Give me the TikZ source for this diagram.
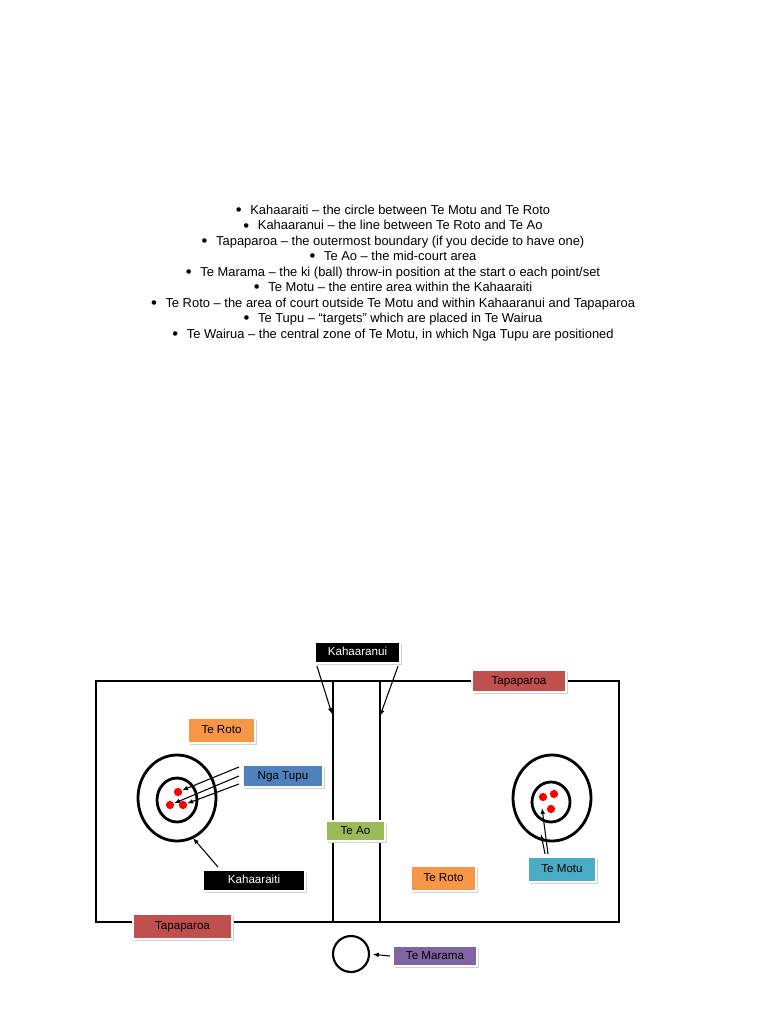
\documentclass[tikz,border=0pt]{standalone}
\usepackage{fontspec}
\setmainfont{Liberation Sans}
\usetikzlibrary{arrows.meta,shadows,calc}
\definecolor{cRed}{HTML}{C0504D}
\definecolor{cOrange}{HTML}{F79646}
\definecolor{cBlue}{HTML}{4F81BD}
\definecolor{cGreen}{HTML}{9BBB59}
\definecolor{cCyan}{HTML}{4BACC6}
\definecolor{cPurple}{HTML}{8064A2}
\definecolor{cDot}{HTML}{FF0000}
\newcommand{\bl}{\raisebox{-1.4pt}{\fontsize{12.5}{12.5}\selectfont •}\hspace{6.5pt}}
\begin{document}
\begin{tikzpicture}[x=0.75pt,y=-0.75pt,
  lbl/.style={draw=white, line width=1.6pt, inner sep=0pt, text=black,
    font=\fontsize{8.7}{10}\selectfont, text height=6.2pt, text depth=1.6pt,
    general shadow={fill=black!18, shadow xshift=1.5pt, shadow yshift=-1.5pt}},
  box/.style 2 args={minimum width=#1*0.75pt, minimum height=#2*0.75pt},
  dark/.style={lbl, fill=black, text=white},
  bul/.style={anchor=base, font=\fontsize{9.7}{11.6}\selectfont, inner sep=0pt},
  court/.style={line width=2.1pt},
  mid/.style={line width=2pt},
  ring/.style={line width=2.1pt},
  dot/.style={circle, fill=cDot, inner sep=0pt, minimum size=6.2pt},
  arr/.style={line width=0.8pt, -{Latex[length=4.5pt,width=3.5pt]}}
]
\useasboundingbox[fill=white] (0,0) rectangle (768,1024);

% bullet list
\node[bul] (l1) at (393,214) {\bl Kahaaraiti – the circle between Te Motu and Te Roto};
\node[bul] (l2) at (393,229.5) {\bl Kahaaranui – the line between Te Roto and Te Ao};
\node[bul] (l3) at (393,245) {\bl Tapaparoa – the outermost boundary (if you decide to have one)};
\node[bul] (l4) at (393,260) {\bl Te Ao – the mid-court area};
\node[bul] (l5) at (393,276) {\bl Te Marama – the ki (ball) throw-in position at the start o each point/set};
\node[bul] (l6) at (393,291) {\bl Te Motu – the entire area within the Kahaaraiti};
\node[bul] (l7) at (393,307) {\bl Te Roto – the area of court outside Te Motu and within Kahaaranui and Tapaparoa};
\node[bul] (l8) at (393,322) {\bl Te Tupu – “targets” which are placed in Te Wairua};
\node[bul] (l9) at (393,338) {\bl Te Wairua – the central zone of Te Motu, in which Nga Tupu are positioned};

% court
\draw[court] (96,681) rectangle (619,922);
\draw[mid] (333,681) -- (333,922);
\draw[mid] (380,681) -- (380,922);

% targets
\draw[ring] (177,798) ellipse [x radius=39, y radius=43];
\draw[ring] (177,800) ellipse [x radius=20, y radius=22];
\draw[ring] (552,798) ellipse [x radius=39, y radius=43];
\draw[ring] (551,802) ellipse [x radius=19, y radius=20];
\node[dot] (d1) at (178,792) {};
\node[dot] (d2) at (170,805) {};
\node[dot] (d3) at (183,805) {};
\node[dot] (e1) at (543,797) {};
\node[dot] (e2) at (554,794) {};
\node[dot] (e3) at (551,809) {};

% ball
\node[draw, circle, line width=1.6pt, minimum size=27pt, inner sep=0pt] (ball) at (351,954) {};

% labels
\node[dark, box={85}{21}] (kahaaranui) at (357.5,652.5) {Kahaaranui};
\node[lbl, fill=cRed, box={94}{22}] (tapaT) at (519,681) {Tapaparoa};
\node[lbl, fill=cOrange, box={67}{25}] (rotoL) at (221.5,730.5) {Te Roto};
\node[lbl, fill=cBlue, box={80}{22}] (nga) at (283,776) {Nga Tupu};
\node[lbl, fill=cGreen, box={59}{20}] (ao) at (355.5,831) {Te Ao};
\node[dark, box={102}{21}] (kahaaraiti) at (254,880.5) {Kahaaraiti};
\node[lbl, fill=cOrange, box={65}{25}] (rotoR) at (443.5,878.5) {Te Roto};
\node[lbl, fill=cCyan, box={68}{25}] (motu) at (562,869.5) {Te Motu};
\node[lbl, fill=cRed, box={99}{25}] (tapaB) at (182.5,926.5) {Tapaparoa};
\node[lbl, fill=cPurple, box={84}{20}] (marama) at (435,956) {Te Marama};

% connector end points
\coordinate (kA) at (332,714);
\coordinate (kB) at (380,716);
\coordinate (kc) at (193,838);
\coordinate (m1) at (541,834);
\coordinate (m2) at (542,808);

% connectors
\draw[arr] ($(kahaaranui.south west)+(3,2)$) -- (kA);
\draw[arr] ($(kahaaranui.south east)+(-3,2)$) -- (kB);
\draw[arr] ($(nga.west)+(-3,-9)$) -- (d1);
\draw[arr] ($(nga.west)+(-3,0)$) -- (d2);
\draw[arr] ($(nga.west)+(-3,8)$) -- (d3);
\draw[arr] ($(kahaaraiti.north west)+(16,-2)$) -- (kc);
\draw[arr] ($(motu.north)+(-17,-2)$) -- (m1);
\draw[arr] ($(motu.north)+(-14,-2)$) -- (m2);
\draw[arr, shorten >=2pt] ($(marama.west)+(-2,0)$) -- (ball.east);
\end{tikzpicture}
\end{document}
